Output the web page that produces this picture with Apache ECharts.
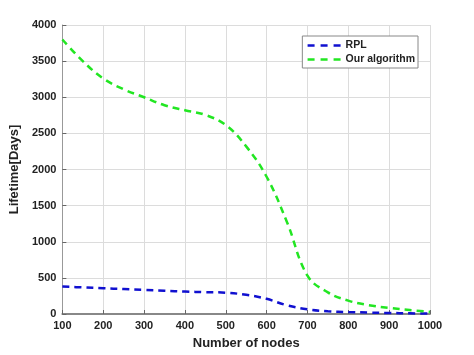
<!DOCTYPE html>
<html>
<head>
<meta charset="utf-8">
<script src="https://cdn.jsdelivr.net/npm/echarts@6/dist/echarts.min.js"></script>
<style>html,body{margin:0;padding:0;background:#fff;}#c{width:474px;height:355px;}</style>
</head>
<body>
<div id="c"></div>
<script>
const nodes = [100,150,200,250,300,350,400,450,500,550,600,650,700,750,800,850,900,950,1000];
const rplLifetime = [380,368,357,345,334,322,311,302,295,265,210,120,65,38,27,20,14,9,5];
const ourLifetime = [3800,3500,3260,3110,3000,2890,2820,2755,2615,2320,1900,1270,530,300,185,122,84,55,30];
const xTicks = {min:100, max:1000, interval:100};
const yTicks = {min:0, max:4000, interval:500};

const pair = (xs, ys) => xs.map((x,i)=>[x, ys[i]]);
const font = 'Liberation Sans, Arial, sans-serif';
const chart = echarts.init(document.getElementById('c'));
chart.setOption({
  animation:false,
  backgroundColor:'#fff',
  grid:{left:62, right:44, top:25, bottom:39, show:false},
  legend:{
    right:56, top:36, orient:'vertical',
    backgroundColor:'#fff', borderColor:'#888', borderWidth:1,
    padding:[4,3,3,4], itemGap:3, itemWidth:37, itemHeight:10,
    itemStyle:{opacity:0},
    lineStyle:{width:2.5, type:[7,6]},
    textStyle:{fontFamily:font, fontWeight:'bold', fontSize:10.5, color:'#222', padding:[0,0,0,-4]},
    data:['RPL','Our algorithm']
  },
  xAxis:{
    type:'value', min:xTicks.min, max:xTicks.max, interval:xTicks.interval,
    name:'Number of nodes', nameLocation:'middle', nameGap:23,
    nameTextStyle:{fontFamily:font, fontWeight:'bold', fontSize:13, color:'#222'},
    axisLine:{show:true, onZero:false, lineStyle:{color:'#888', width:2}},
    axisTick:{show:true, inside:true, length:4, lineStyle:{color:'#666'}},
    axisLabel:{fontFamily:font, fontWeight:'bold', fontSize:11, color:'#222', margin:6, formatter:v=>String(v)},
    splitLine:{show:true, lineStyle:{color:'#dcdcdc', width:1}}
  },
  yAxis:{
    type:'value', min:yTicks.min, max:yTicks.max, interval:yTicks.interval,
    name:'Lifetime[Days]', nameLocation:'middle', nameGap:37,
    nameTextStyle:{fontFamily:font, fontWeight:'bold', fontSize:13, color:'#222'},
    axisLine:{show:true, lineStyle:{color:'#999', width:1}},
    axisTick:{show:true, inside:true, length:4, lineStyle:{color:'#666'}},
    axisLabel:{fontFamily:font, fontWeight:'bold', fontSize:11, color:'#222', margin:6, formatter:v=>String(v)},
    splitLine:{show:true, lineStyle:{color:'#dcdcdc', width:1}}
  },
  series:[
    {name:'RPL', type:'line', smooth:0.4, symbol:'none', data:pair(nodes, rplLifetime),
     lineStyle:{color:'#1010d0', width:2.5, type:[7,5]}, itemStyle:{color:'#1010d0'}},
    {name:'Our algorithm', type:'line', smooth:0.4, symbol:'none', data:pair(nodes, ourLifetime),
     lineStyle:{color:'#22e622', width:2.5, type:[7,5]}, itemStyle:{color:'#22e622'}}
  ]
});
</script>
</body>
</html>
